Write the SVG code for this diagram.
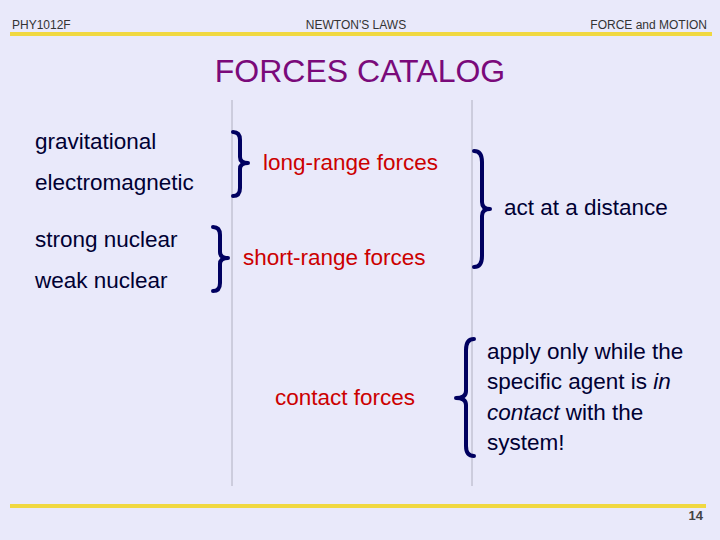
<svg xmlns="http://www.w3.org/2000/svg" width="720" height="540" viewBox="0 0 720 540">
<style>
.h{font-family:"Liberation Sans",Arial,sans-serif;font-size:12px;fill:#333}
.l{font-family:"Liberation Sans",Arial,sans-serif;font-size:22.5px;fill:#000033}
.r{font-family:"Liberation Sans",Arial,sans-serif;font-size:22.5px;fill:#cc0000}
.br{fill:none;stroke:#000060;stroke-width:4;stroke-linecap:round;stroke-linejoin:round}
.v{stroke:#b0b0c0;stroke-width:1}
.y{stroke:#f0d840;stroke-width:4}
</style>
<rect width="720" height="540" fill="#e9e9fa"/>
<line class="y" x1="10" y1="34" x2="712" y2="34"/>
<line class="y" x1="10" y1="506" x2="706" y2="506"/>
<text class="h" x="12" y="29">PHY1012F</text>
<text class="h" x="356" y="29" text-anchor="middle">NEWTON'S LAWS</text>
<text class="h" x="707" y="29" text-anchor="end">FORCE and MOTION</text>
<text x="360" y="82" text-anchor="middle" font-family="Liberation Sans,Arial,sans-serif" font-size="32" fill="#7a0a7a">FORCES CATALOG</text>
<g id="lines">
<line class="v" x1="232" y1="100" x2="232" y2="486"/>
<line class="v" x1="472" y1="100" x2="472" y2="486"/>
</g>
<g id="left">
<text class="l" x="35" y="149">gravitational</text>
<text class="l" x="35" y="190">electromagnetic</text>
<text class="l" x="35" y="247">strong nuclear</text>
<text class="l" x="35" y="288">weak nuclear</text>
</g>
<g id="braces">
<path class="br" d="M233,132 Q240,132 240,140 L240,157 Q240,163 248,163 Q240,163 240,169 L240,188 Q240,196 233,196"/>
<path class="br" d="M213,227 Q220,227 220,235 L220,252 Q220,258 228,258 Q220,258 220,264 L220,283 Q220,291 213,291"/>
<path class="br" d="M474,151 Q482,151 482,162 L482,202 Q482,209 490,209 Q482,209 482,216 L482,256 Q482,267 474,267"/>
<path class="br" d="M474,339 Q466,339 466,350 L466,391 Q466,398 456,398 Q466,398 466,405 L466,446 Q466,456 474,456"/>
</g>
<g id="mid">
<text class="r" x="263" y="170">long-range forces</text>
<text class="r" x="243" y="265">short-range forces</text>
<text class="r" x="275" y="405">contact forces</text>
</g>
<g id="right">
<text class="l" x="504" y="215">act at a distance</text>
<text class="l" x="487" y="359">apply only while the</text>
<text class="l" x="487" y="389">specific agent is <tspan font-style="italic">in</tspan></text>
<text class="l" x="487" y="420"><tspan font-style="italic">contact</tspan>  with the</text>
<text class="l" x="487" y="450">system!</text>
</g>
<text x="703" y="520" text-anchor="end" font-family="Liberation Sans,Arial,sans-serif" font-size="13" font-weight="bold" fill="#444">14</text>
</svg>
